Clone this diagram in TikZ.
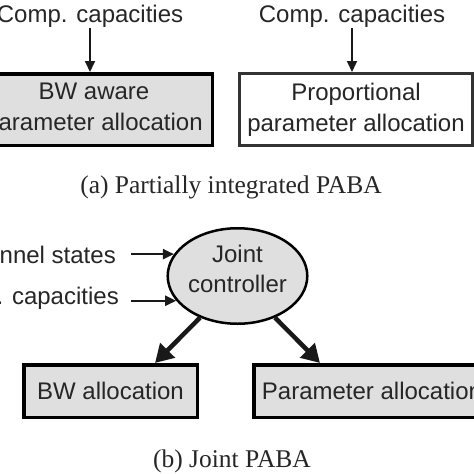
\documentclass[tikz,border=0pt]{standalone}
\usepackage{fontspec}
\setmainfont{Liberation Sans}
\newfontfamily\capfont{Liberation Serif}
\usetikzlibrary{arrows.meta,shapes.geometric}

\begin{document}
\begin{tikzpicture}[x=1pt, y=-1pt,
    every node/.style={text=black!85},
    alloc/.style={draw=black, line width=3.5pt, fill=gray!25, align=center, inner sep=0pt, font=\fontsize{24}{31}\selectfont},
    lbl/.style={font=\fontsize{24}{31}\selectfont, inner sep=1pt},
    subcap/.style={font=\capfont\fontsize{25.5}{30}\selectfont, anchor=base},
    inarr/.style={-{Triangle[length=11pt, width=10pt]}, line width=2pt, draw=black!90},
    outarr/.style={-{Triangle[length=18pt, width=20pt]}, line width=4.5pt, draw=black!90},
]
\useasboundingbox (0,0) rectangle (474,474);
\clip (0,0) rectangle (474,474);

% (a) partially integrated
\node[lbl, anchor=base] (compa) at (90,22) {Comp. capacities};
\node[lbl, anchor=base] (compb) at (352,22) {Comp. capacities};
\node[alloc, minimum width=236.5pt, minimum height=71.5pt] (bwpar) at (94,109.5) {BW aware\\parameter allocation};
\node[alloc, fill=white, draw=black!80, line width=3pt, minimum width=233pt, minimum height=72pt] (proppar) at (356,109.5) {Proportional\\parameter allocation};
\draw[inarr] (compa) -- (compa |- bwpar.north);
\draw[inarr] (compb) -- (compb |- proppar.north);
\node[subcap] (capa) at (231,193) {(a) Partially integrated PABA};

% (b) joint
\node[ellipse, draw=black, line width=2.5pt, fill=gray!25, minimum width=132.5pt, minimum height=95.5pt, inner sep=0pt,
      align=center, font=\fontsize{24}{30}\selectfont, text depth=13.5pt] (ctrl) at (237.5,276) {Joint\\controller};
\node[lbl, anchor=base east] (chan) at (117,263) {Channel states};
\node[lbl, anchor=base east] (compc) at (120,304) {Comp. capacities};
\draw[inarr] (ctrl.161 -| chan.east) ++(14,0) -- (ctrl.161);
\draw[inarr] (ctrl.202 -| compc.east) ++(11,0) -- (ctrl.202);

\node[alloc, minimum width=173.5pt, minimum height=52.5pt] (bwalloc) at (110.5,391) {BW allocation};
\node[alloc, minimum width=236.5pt, minimum height=52.5pt] (paralloc) at (372,391) {Parameter allocation};
\draw[outarr] (ctrl.228) -- ([xshift=44.5pt]bwalloc.north);
\draw[outarr] (ctrl.-48) -- ([xshift=-52pt]paralloc.north);
\node[subcap] (capb) at (232,467) {(b) Joint PABA};
\end{tikzpicture}
\end{document}
